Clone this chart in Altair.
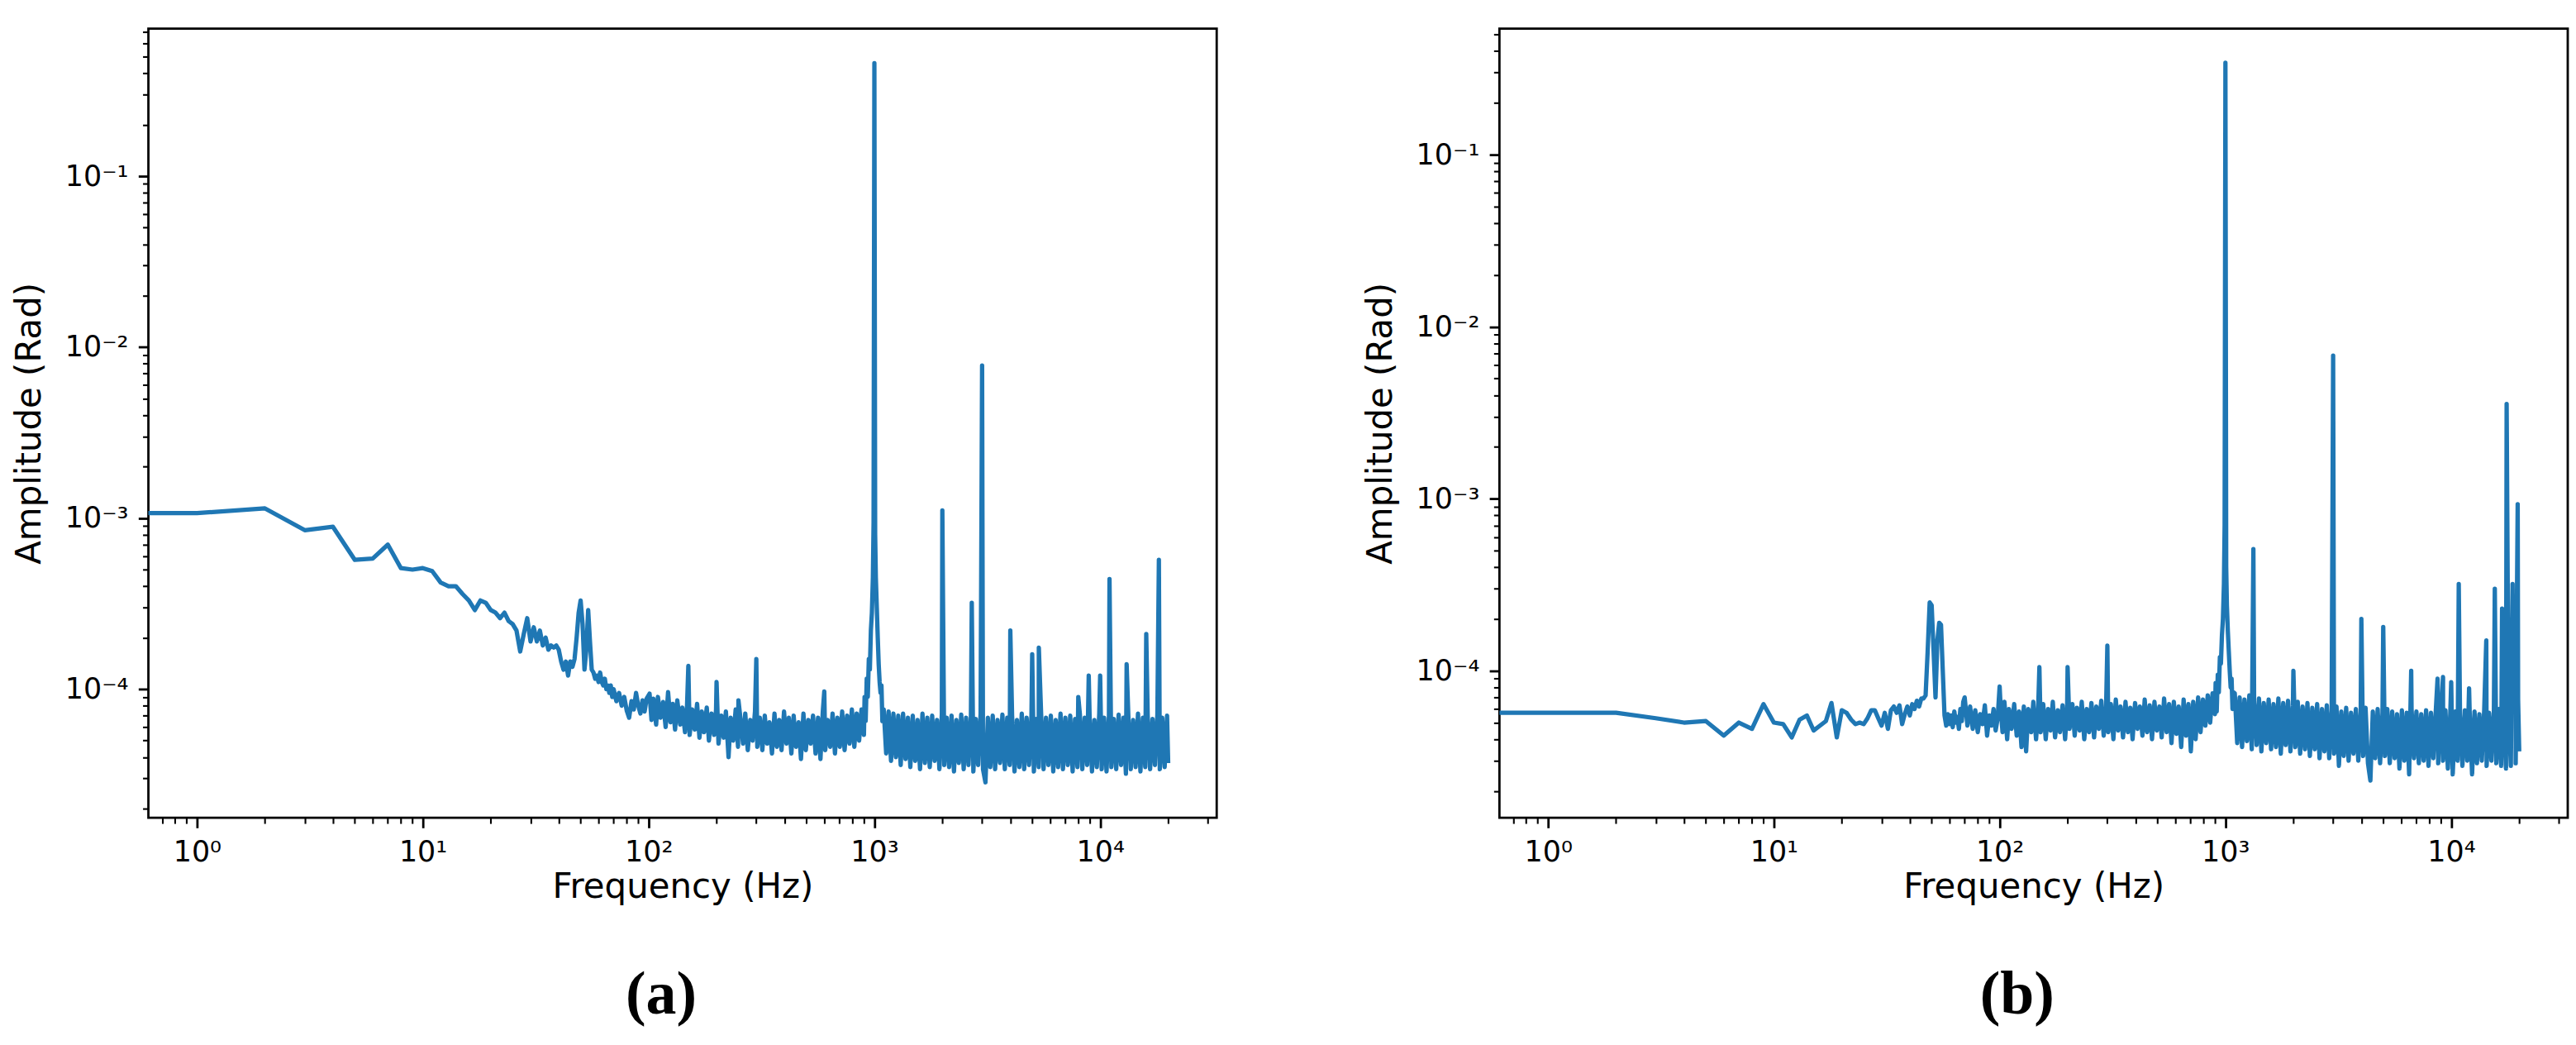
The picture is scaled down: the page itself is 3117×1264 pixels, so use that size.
import altair as alt
import pandas as pd

# Amplitudes below are written in units of 1e-5 rad
SCALE = 1e-5

# ---------------- shared frequency lists (Hz) ----------------
# first entry stands for the DC bin (0 Hz), which a log axis cannot show
FREQ_LOW = [0.5, 1, 2, 3, 4, 5, 6, 7, 8, 9,
            10, 11, 12, 13, 14, 15, 16, 17, 18, 19,
            20, 21, 22, 23, 24, 25, 26, 27, 28, 29,
            30, 31, 32, 33, 34, 35, 36, 37, 38, 39,
            40, 41, 42, 43, 44, 45, 46, 47, 48, 49,
            50, 51, 52, 53, 54, 55, 56, 57, 58, 59,
            60, 61, 62, 63, 64, 65, 66, 67, 68, 69,
            70, 72, 74, 76, 78, 80, 82, 84, 86, 88,
            90, 92, 94, 96, 98]

FREQ_MID = [101, 103, 105, 108, 110, 113, 116, 119, 122, 125,
            128, 131, 134, 138, 141, 145, 148, 152, 156, 160,
            164, 168, 172, 176, 181, 185, 190, 195, 199, 204,
            210, 215, 220, 226, 231, 237, 243, 249, 255, 262,
            268, 275, 282, 289, 296, 303, 311, 319, 327, 335,
            343, 352, 361, 370, 379, 388, 398, 408, 418, 429,
            439, 450, 462, 473, 485, 497, 510, 522, 535, 549,
            563, 577, 591, 606, 621, 637, 653, 669, 686, 703,
            720, 738, 757, 776, 795, 815, 835, 856, 877, 899]

FREQ_SKIRT = [905, 915, 925, 935, 945, 955, 965, 975, 985, 992,
              1000, 1008, 1015, 1025, 1035, 1045, 1055, 1065, 1075, 1085]

FREQ_HIGH = [1100, 1128, 1156, 1185, 1214, 1245, 1276, 1308, 1340, 1374,
             1408, 1443, 1479, 1516, 1554, 1593, 1633, 1674, 1716, 1759,
             1803, 1848, 1894, 1941, 1990, 2040, 2091, 2143, 2197, 2252,
             2308, 2366, 2425, 2486, 2548, 2611, 2677, 2744, 2812, 2882,
             2955, 3028, 3104, 3182, 3261, 3343, 3426, 3512, 3600, 3690,
             3782, 3877, 3974, 4073, 4175, 4279, 4386, 4496, 4608, 4724,
             4842, 4963, 5087, 5214, 5344, 5478, 5615, 5755, 5899, 6047,
             6198, 6353, 6512, 6675, 6842, 7013, 7188, 7368, 7552, 7741,
             7934, 8133, 8336, 8544, 8758, 8977, 9201, 9431, 9667, 9909,
             10157, 10411, 10671, 10938, 11211, 11491, 11779, 12073, 12375, 12684,
             13002, 13327, 13660, 14001, 14351, 14710, 15078, 15455, 15841, 16237,
             16643, 17059, 17486, 17923, 18371, 18830, 19301, 19784, 20000]

# ---------------- panel (a) ----------------
AMP_A_LOW = [107, 107, 114, 85, 89, 57, 58, 70, 51, 50,
             51, 49, 42, 40, 40, 36, 33, 29, 33, 32,
             29, 28, 26, 28, 25, 24, 22, 16.6, 21, 26,
             19, 23, 19, 22, 18, 20, 17, 18, 17.5, 18,
             17, 14.5, 13, 14.5, 12, 14.5, 13.5, 15, 20, 28,
             33, 24, 13, 17, 29, 19, 13, 12.5, 11.5, 12,
             11, 12.5, 11, 10.5, 11.5, 10, 10.5, 9.5, 10.5, 9,
             10, 8.5, 9.5, 8, 9, 7.5, 6.8, 8.5, 7.6, 9.5,
             8, 7.2, 8.6, 7.4, 8.8]

AMP_A_MID = [9.4, 6.6, 8.8, 6.2, 9.0, 6.8, 8.4, 6.0, 9.6, 6.4,
             8.2, 5.8, 8.6, 6.2, 7.8, 5.6, 8.0, 5.4, 7.6, 5.8,
             8.2, 5.2, 7.4, 5.6, 7.8, 5.0, 7.2, 5.4, 7.6, 4.8,
             7.0, 5.2, 7.4, 4.0, 6.8, 5.0, 7.6, 4.6, 6.8, 4.8,
             7.2, 4.4, 6.6, 5.0, 7.4, 4.6, 6.8, 4.4, 7.0, 4.8,
             6.4, 4.2, 7.2, 4.6, 6.6, 4.4, 7.4, 4.8, 6.8, 4.2,
             7.0, 4.6, 6.4, 3.9, 7.2, 4.4, 6.6, 4.8, 7.0, 4.2,
             6.8, 3.9, 7.4, 4.4, 6.6, 4.6, 7.2, 4.2, 6.8, 4.6,
             7.4, 4.4, 7.0, 4.8, 7.6, 4.6, 7.2, 5.0, 7.6, 5.4]

AMP_A_SKIRT = [9.0, 6.5, 11.5, 9.0, 15.0, 13.0, 22.0, 28.0, 45.0, 95.0,
               45800, 80.0, 45.0, 30.0, 20.0, 14.0, 11.0, 9.5, 10.5, 6.5]

AMP_A_HIGH = [7.6, 4.2, 7.4, 3.8, 7.2, 4.0, 7.0, 3.6, 7.2, 3.9,
              6.8, 3.5, 7.0, 3.8, 6.6, 3.4, 7.2, 3.7, 6.8, 3.5,
              7.0, 3.8, 6.6, 3.4, 7.2, 3.6, 6.8, 3.5, 7.0, 3.3,
              6.6, 3.7, 7.1, 3.4, 6.8, 3.6, 7.0, 3.3, 6.7, 3.6,
              7.2, 3.4, 2.85, 6.8, 3.5, 7.0, 3.4, 6.6, 3.7, 7.1,
              3.4, 6.8, 3.6, 7.0, 3.3, 6.6, 3.5, 7.2, 3.4, 6.8,
              3.6, 7.0, 3.3, 6.7, 3.5, 7.1, 3.4, 6.8, 3.6, 7.0,
              3.3, 6.6, 3.5, 7.2, 3.4, 6.8, 3.6, 7.0, 3.3, 6.7,
              3.5, 7.1, 3.4, 6.8, 3.6, 7.0, 3.3, 6.6, 3.5, 7.2,
              3.4, 6.8, 3.3, 7.0, 3.5, 6.7, 3.4, 7.1, 3.6, 6.8,
              3.2, 7.0, 3.4, 6.6, 3.5, 7.2, 3.3, 6.8, 3.5, 7.0,
              3.4, 6.7, 3.6, 7.1, 3.4, 6.8, 3.5, 7.0, 3.8]

SPIKE_A_F = [150, 200, 250, 300, 600, 2000, 2700, 3000, 4000, 5000,
             5350, 8000, 8900, 10000, 11000, 13100, 16000, 18200]
SPIKE_A_AMP = [13.7, 11.0, 8.6, 15.0, 9.7, 111, 32, 780, 22, 16,
               17.5, 9.0, 12, 12, 44, 14, 21, 57]

# ---------------- panel (b) ----------------
AMP_B_LOW = [5.7, 5.7, 5.7, 5.3, 5.0, 5.1, 4.2, 5.0, 4.6, 6.4,
             5.0, 4.9, 4.1, 5.2, 5.5, 4.5, 4.8, 5.1, 6.5, 4.1,
             5.9, 5.7, 5.2, 4.9, 5.0, 4.9, 5.3, 5.9, 5.9, 5.3,
             4.8, 5.7, 4.6, 5.9, 6.2, 5.7, 6.3, 4.9, 5.6, 6.2,
             5.5, 6.4, 6.0, 6.7, 6.2, 6.9, 6.9, 7.2, 13, 25,
             24, 13, 7.0, 15, 19, 18.5, 10, 5.5, 4.8, 5.6,
             4.9, 5.5, 4.7, 5.8, 5.0, 5.4, 4.6, 6.0, 5.1, 6.6,
             7.0, 4.8, 6.2, 4.6, 5.9, 4.4, 5.6, 4.9, 6.3, 4.2,
             5.5, 4.8, 6.0, 4.5, 5.3]

AMP_B_MID = [6.2, 4.4, 6.6, 4.0, 6.0, 4.6, 6.4, 4.2, 5.8, 3.6,
             6.2, 3.4, 6.0, 4.4, 6.6, 4.0, 5.8, 4.4, 6.4, 4.0,
             6.0, 4.5, 6.6, 4.1, 5.9, 4.4, 6.3, 4.0, 6.0, 4.6,
             6.4, 4.2, 6.1, 4.5, 6.6, 4.0, 6.0, 4.4, 6.5, 4.1,
             6.2, 4.6, 6.7, 4.2, 6.0, 4.4, 6.4, 4.0, 6.8, 4.5,
             6.2, 4.1, 6.6, 4.4, 6.1, 4.0, 6.5, 4.6, 6.2, 4.2,
             6.8, 4.4, 6.3, 4.0, 6.6, 4.5, 6.2, 4.1, 6.9, 4.4,
             6.4, 3.8, 6.6, 4.3, 6.2, 3.6, 6.8, 4.2, 6.4, 3.4,
             6.6, 4.0, 7.0, 4.4, 6.8, 4.8, 7.2, 5.0, 7.4, 5.6]

AMP_B_SKIRT = [8.5, 5.8, 9.5, 7.5, 12.0, 11.0, 16.0, 20.0, 32.0, 70.0,
               34200, 40.0, 24.0, 17.0, 13.0, 10.0, 8.0, 9.0, 6.0, 7.5]

AMP_B_HIGH = [7.4, 3.8, 7.0, 3.6, 6.8, 3.9, 7.2, 3.5, 6.6, 3.7,
              6.9, 3.4, 6.5, 3.8, 6.8, 3.5, 6.4, 3.6, 6.9, 3.3,
              6.5, 3.7, 6.7, 3.4, 6.3, 3.6, 6.6, 3.3, 6.2, 3.5,
              6.5, 3.2, 6.1, 3.5, 6.4, 3.1, 6.0, 3.4, 6.3, 3.1,
              5.9, 3.3, 6.2, 2.8, 5.8, 3.2, 6.1, 3.0, 5.7, 3.3,
              6.0, 3.0, 5.8, 3.2, 6.1, 2.9, 2.3, 5.8, 3.1, 6.0,
              2.9, 5.7, 3.2, 6.0, 2.9, 5.8, 3.1, 5.6, 2.7, 5.9,
              3.0, 5.7, 2.5, 6.0, 3.1, 5.8, 2.9, 5.6, 3.0, 5.9,
              2.8, 5.7, 3.1, 5.8, 2.9, 5.6, 3.0, 5.9, 2.7, 5.7,
              2.5, 5.8, 3.0, 5.6, 2.8, 5.9, 3.0, 5.7, 2.5, 5.8,
              2.9, 5.6, 3.0, 5.9, 2.8, 5.7, 3.0, 5.8, 2.9, 6.0,
              2.8, 6.2, 2.7, 6.4, 2.8, 6.6, 2.9, 6.8, 3.5]

SPIKE_B_F = [100, 150, 200, 300, 1330, 2000, 3000, 4000, 5000, 6650,
             8700, 9200, 10000, 10800, 12000, 14300, 15600, 16800, 17600, 18700,
             19300, 19700]
SPIKE_B_AMP = [8.1, 10.5, 10.5, 14, 51, 10, 680, 20, 18, 10,
               9, 9.2, 8.6, 32, 7.9, 15, 30, 23, 356, 32,
               25, 93]

# ---------------- axes ----------------
X_DOMAIN = [0.609, 32820]
Y_DOMAIN_A = [1.77e-5, 0.730]
Y_DOMAIN_B = [1.40e-5, 0.541]

X_MAJOR = [1, 10, 100, 1000, 10000]
X_LABELS = ["10\u2070", "10\u00b9", "10\u00b2", "10\u00b3", "10\u2074"]
Y_MAJOR = [1e-4, 1e-3, 1e-2, 1e-1]
Y_LABELS = ["10\u207b\u2074", "10\u207b\u00b3", "10\u207b\u00b2", "10\u207b\u00b9"]
MINOR_MULT = [2, 3, 4, 5, 6, 7, 8, 9]
X_DECADES = [0.1, 1, 10, 100, 1000, 10000]
Y_DECADES = [1e-5, 1e-4, 1e-3, 1e-2, 1e-1]

W, H = 1296, 957
FONT = "DejaVu Sans"
MAJOR_TEST = "abs(log(datum.value) / LN10 - round(log(datum.value) / LN10)) < 1e-6"


def assemble(parts):
    f, a = [], []
    for fl, al in parts:
        for x, y in zip(fl, al, strict=True):
            f.append(x)
            a.append(y * SCALE)
    df = pd.DataFrame({"freq": f, "amp": a})
    return df.sort_values("freq", kind="stable").reset_index(drop=True)


def tick_values(majors, decades, dom):
    vals = list(majors) + [m * d for d in decades for m in MINOR_MULT]
    return sorted(v for v in vals if dom[0] <= v <= dom[1])


def label_expr(majors, labels):
    parts = [f"abs(datum.value / {v!r} - 1) < 1e-9 ? '{t}'" for v, t in zip(majors, labels)]
    return " : ".join(parts) + " : ''"


TICK_SIZE = {"condition": {"test": MAJOR_TEST, "value": 12.25}, "value": 7}
TICK_WIDTH = {"condition": {"test": MAJOR_TEST, "value": 2.8}, "value": 2.1}


def panel(df, ydom, label, dx):
    xaxis = alt.Axis(
        values=tick_values(X_MAJOR, X_DECADES, X_DOMAIN),
        labelExpr=label_expr(X_MAJOR, X_LABELS),
        title="Frequency (Hz)", grid=False, domain=False,
        tickColor="black", tickSize=TICK_SIZE, tickWidth=TICK_WIDTH,
        labelFont=FONT, labelFontSize=35, labelColor="black",
        labelBaseline="alphabetic", labelPadding=40.75,
        labelFlush=False, labelOverlap=False,
        titleFont=FONT, titleFontSize=42, titleFontWeight="normal",
        titleColor="black", titleX=W / 2, titleY=97,
        titleBaseline="alphabetic", titleAlign="center",
    )
    yaxis = alt.Axis(
        values=tick_values(Y_MAJOR, Y_DECADES, ydom),
        labelExpr=label_expr(Y_MAJOR, Y_LABELS),
        title="Amplitude (Rad)", grid=False, domain=False,
        tickColor="black", tickSize=TICK_SIZE, tickWidth=TICK_WIDTH,
        labelFont=FONT, labelFontSize=35, labelColor="black",
        labelAlign="right", labelBaseline="middle", labelPadding=12.25,
        labelFlush=False, labelOverlap=False,
        titleFont=FONT, titleFontSize=42, titleFontWeight="normal",
        titleColor="black", titleX=-131, titleY=H / 2, titleAngle=270,
        titleBaseline="alphabetic", titleAlign="center",
    )
    return (
        alt.Chart(
            df,
            title=alt.TitleParams(
                text=label, orient="bottom", anchor="middle", frame="group",
                font="Liberation Serif", fontSize=74, fontWeight="bold",
                color="black", baseline="alphabetic", offset=133, dx=dx,
            ),
        )
        .mark_line(color="#1f77b4", strokeWidth=5.25, strokeJoin="round",
                   strokeCap="square", clip=True)
        .encode(
            x=alt.X("freq:Q", scale=alt.Scale(type="log", domain=X_DOMAIN, nice=False, zero=False), axis=xaxis),
            y=alt.Y("amp:Q", scale=alt.Scale(type="log", domain=ydom, nice=False, zero=False), axis=yaxis),
        )
        .properties(width=W, height=H)
    )


df_a = assemble([(FREQ_LOW, AMP_A_LOW), (FREQ_MID, AMP_A_MID), (FREQ_SKIRT, AMP_A_SKIRT),
                 (FREQ_HIGH, AMP_A_HIGH), (SPIKE_A_F, SPIKE_A_AMP)])
df_b = assemble([(FREQ_LOW, AMP_B_LOW), (FREQ_MID, AMP_B_MID), (FREQ_SKIRT, AMP_B_SKIRT),
                 (FREQ_HIGH, AMP_B_HIGH), (SPIKE_B_F, SPIKE_B_AMP)])

chart = (
    alt.hconcat(panel(df_a, Y_DOMAIN_A, "(a)", -26), panel(df_b, Y_DOMAIN_B, "(b)", -20),
                spacing=343, bounds="flush")
    .properties(padding={"left": 5, "top": 10, "right": 0, "bottom": 0}, background="white")
    .configure_view(stroke="black", strokeWidth=2.8)
)

chart.save("out.html", embed_options={"renderer": "svg", "actions": False})
